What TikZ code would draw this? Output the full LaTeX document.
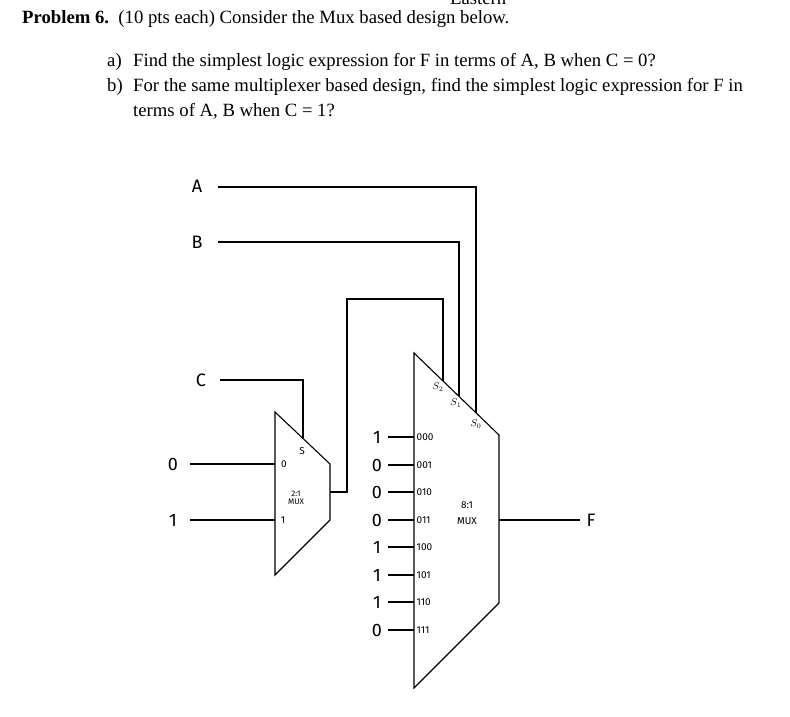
\documentclass[tikz,border=0pt]{standalone}
\usepackage{fontspec}
\setmainfont{Liberation Serif}
\newfontfamily\hand{Fira Sans}
\begin{document}
\begin{tikzpicture}[x=1pt,y=-1pt,
  wire/.style={line width=1.1pt},
  lbl/.style={font=\hand\fontsize{18}{18}\selectfont},
  sm/.style={font=\hand\fontsize{10}{10}\selectfont, inner sep=0.5pt},
  txt/.style={font=\fontsize{18.7}{20}\selectfont, anchor=west, inner sep=0}]
\useasboundingbox (0,0) rectangle (790,716);
\clip (0,0) rectangle (790,716);
% text
\node[txt] (east) at (450,-2) {Eastern};
\node[txt] (p6) at (22,19) {\textbf{Problem 6.}\ \ (10 pts each) Consider the Mux based design below.};
\node[txt] (ia) at (107,62) {a)};
\node[txt] (ta) at (133,62) {Find the simplest logic expression for F in terms of A, B when C = 0?};
\node[txt] (ib) at (107,87) {b)};
\node[txt] (tb) at (133,87) {For the same multiplexer based design, find the simplest logic expression for F in};
\node[txt] (tc) at (133,111) {terms of A, B when C = 1?};
% mux shapes
\draw[wire] (414,353) -- (499,435) -- (499,603) -- (414,688) -- cycle;
\draw[wire] (275,412) -- (330,464) -- (330,520) -- (275,575) -- cycle;
\coordinate (s2) at (443,381); \coordinate (s1) at (459,396); \coordinate (s0) at (476,413);
\coordinate (ss) at (303,438);
\coordinate (mo) at (330,492);
% labels
\node[lbl] (A) at (197,186) {A};
\node[lbl] (B) at (197,242) {B};
\node[lbl] (C) at (201,380) {C};
\node[lbl] (i0) at (173,464) {0};
\node[lbl] (i1) at (173,520) {1};
\node[lbl] (F) at (591,520) {F};
% wires
\draw[wire] (218,187) -- (476,187) -- (s0);
\draw[wire] (218,242) -- (459,242) -- (s1);
\draw[wire] (mo) -- (347,492) -- (347,299) -- (443,299) -- (s2);
\draw[wire] (220,380) -- (303,380) -- (ss);
\draw[wire] (190,464) -- (275,464);
\draw[wire] (190,520) -- (275,520);
\draw[wire] (499,520) -- (580,520);
% 8:1 inputs
\foreach \y/\v/\c in {437/1/000,465/0/001,492/0/010,520/0/011,547/1/100,575/1/101,602/1/110,630/0/111}{
  \draw[wire] (388,\y) -- (414,\y);
  \node[lbl] at (377,\y) {\v};
  \node[sm,anchor=west] at (416,\y) {\c};
}
\node[sm] at (438,387) {$S_2$};
\node[sm] at (456,403) {$S_1$};
\node[sm] at (476,424) {$S_0$};
\node[sm] at (302,451) {S};
\node[sm] at (284,464) {0};
\node[sm] at (283,520) {1};
\node[sm,align=center,font=\hand\fontsize{8}{8}\selectfont] at (296,498) {2:1\\MUX};
\node[sm] at (467,505) {8:1};
\node[sm] at (467,521) {MUX};
\end{tikzpicture}
\end{document}
